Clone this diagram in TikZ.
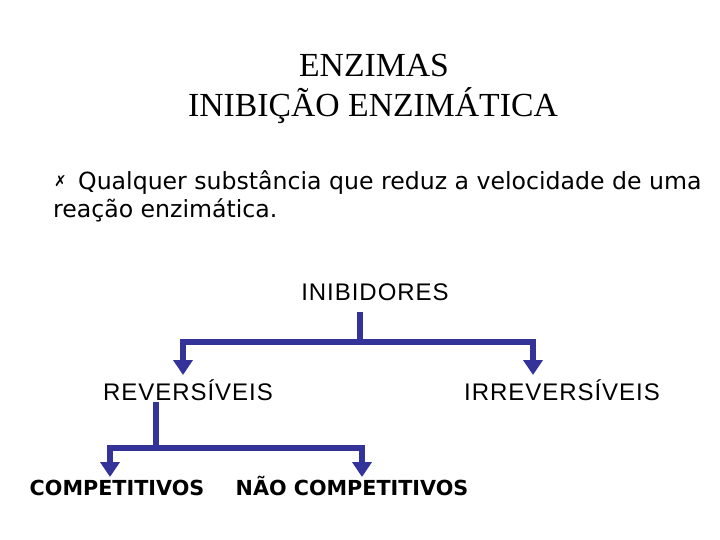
\documentclass[tikz,border=0pt]{standalone}
\usepackage{fontspec}
\setmainfont{Liberation Serif}
\newfontfamily\vfont{DejaVu Sans}
\newfontfamily\afont[LetterSpace=4]{Liberation Sans}
\usetikzlibrary{arrows.meta}
\definecolor{lineblue}{RGB}{51,51,153}
\tikzset{
  titletext/.style={inner sep=0pt, anchor=base, font=\fontsize{33.7}{36}\selectfont},
  bodytext/.style={inner sep=0pt, anchor=base west, font=\vfont\fontsize{23.6}{26}\selectfont},
  cattext/.style={inner sep=0pt, anchor=base, font=\afont\fontsize{24}{26}\selectfont},
  subtext/.style={inner sep=0pt, anchor=base, font=\vfont\bfseries\fontsize{20.7}{24}\selectfont},
  conn/.style={draw=lineblue, line width=5.5pt},
  arr/.style={conn, -{Triangle[width=19pt,length=15pt]}},
}
\begin{document}
\begin{tikzpicture}[x=1pt,y=-1pt]
\useasboundingbox (0,0) rectangle (720,540);
% title
\node[titletext] (t1) at (374,77) {ENZIMAS};
\node[titletext] (t2) at (373,117) {INIBIÇÃO ENZIMÁTICA};
% definition
\node[inner sep=0pt, anchor=base west, font=\vfont\fontsize{15}{15}\selectfont] (bul) at (54,187) {✗};
\node[bodytext] (l1) at (78,190) {Qualquer substância que reduz a velocidade de uma};
\node[bodytext] (l2) at (53,218) {reação enzimática.};
% tree
\node[cattext] (inib) at (375,300) {INIBIDORES};
\node[cattext] (rev) at (188,400) {REVERSÍVEIS};
\node[cattext] (irr) at (562,400) {IRREVERSÍVEIS};
\node[subtext] (comp) at (117,495) {COMPETITIVOS};
\node[subtext] (ncomp) at (352,495) {NÃO COMPETITIVOS};
% connector points
\coordinate (s1) at (360,312);
\coordinate (j1) at (360,342);
\coordinate (a1) at (183,375);
\coordinate (a2) at (533,375);
\coordinate (s2) at (156,402);
\coordinate (j2) at (156,448);
\coordinate (a3) at (110,477);
\coordinate (a4) at (362,477);
\draw[conn] (s1) -- (j1);
\draw[arr] (j1) -| (a1);
\draw[arr] (j1) -| (a2);
\draw[conn] (s2) -- (j2);
\draw[arr] (j2) -| (a3);
\draw[arr] (j2) -| (a4);
\end{tikzpicture}
\end{document}
